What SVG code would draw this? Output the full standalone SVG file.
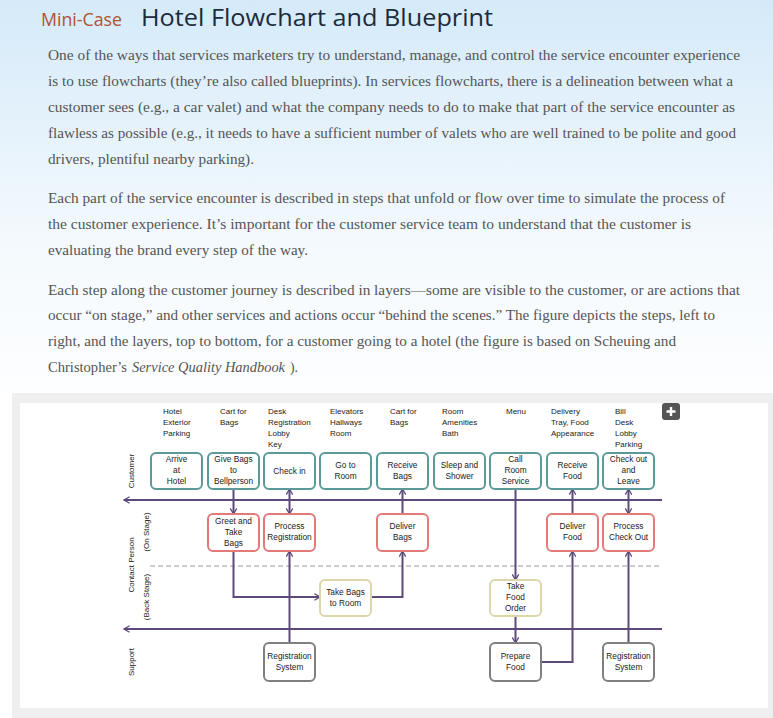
<svg xmlns="http://www.w3.org/2000/svg" width="773" height="718" viewBox="0 0 773 718">
<defs>
<linearGradient id="bg" x1="0" y1="0" x2="0" y2="1">
<stop offset="0" stop-color="#d5eaf9"/>
<stop offset="0.6" stop-color="#f3f9fd"/>
<stop offset="1" stop-color="#fdfeff"/>
</linearGradient>
<marker id="ar" viewBox="0 0 10 10" refX="9" refY="5" markerWidth="8" markerHeight="8" markerUnits="userSpaceOnUse" orient="auto-start-reverse">
<path d="M2,1 L9,5 L2,9" fill="none" stroke="#5d4a7a" stroke-width="1.6"/>
</marker>
<style>
.p{font-family:"Liberation Serif",serif;font-size:15px;fill:#555}
.h{font-family:"Liberation Sans",Arial,sans-serif;font-size:8px;fill:#222}
.t{font-family:"Liberation Sans",Arial,sans-serif;font-size:8.3px;fill:#222;text-anchor:middle}
.lane{font-family:"Liberation Sans",Arial,sans-serif;font-size:8px;fill:#222;text-anchor:middle;dominant-baseline:central}
.cu{fill:#fff;stroke:#5b9a98;stroke-width:2}
.cp{fill:#fff;stroke:#e27a7a;stroke-width:2}
.bs{fill:#fff;stroke:#ddd6aa;stroke-width:2}
.su{fill:#fff;stroke:#808080;stroke-width:2}
.c{fill:none;stroke:#5d4a7a;stroke-width:2}
</style>
</defs>
<rect x="0" y="0" width="773" height="393" fill="url(#bg)"/>
<text x="41" y="26" font-family="Open Sans, sans-serif" font-size="18" fill="#b0532e" textLength="81" lengthAdjust="spacingAndGlyphs">Mini-Case</text>
<text x="141" y="26" font-family="Open Sans, sans-serif" font-size="24" fill="#1d2c3c" textLength="352" lengthAdjust="spacingAndGlyphs">Hotel Flowchart and Blueprint</text>
<g id="text">
<text class="p" x="48" y="60" textLength="692" lengthAdjust="spacingAndGlyphs">One of the ways that services marketers try to understand, manage, and control the service encounter experience</text>
<text class="p" x="48" y="86" textLength="685" lengthAdjust="spacingAndGlyphs">is to use flowcharts (they’re also called blueprints). In services flowcharts, there is a delineation between what a</text>
<text class="p" x="48" y="112" textLength="687" lengthAdjust="spacingAndGlyphs">customer sees (e.g., a car valet) and what the company needs to do to make that part of the service encounter as</text>
<text class="p" x="48" y="138" textLength="688" lengthAdjust="spacingAndGlyphs">flawless as possible (e.g., it needs to have a sufficient number of valets who are well trained to be polite and good</text>
<text class="p" x="48" y="164" textLength="206" lengthAdjust="spacingAndGlyphs">drivers, plentiful nearby parking).</text>
<text class="p" x="48" y="203" textLength="677" lengthAdjust="spacingAndGlyphs">Each part of the service encounter is described in steps that unfold or flow over time to simulate the process of</text>
<text class="p" x="48" y="229" textLength="643" lengthAdjust="spacingAndGlyphs">the customer experience. It’s important for the customer service team to understand that the customer is</text>
<text class="p" x="48" y="255" textLength="260" lengthAdjust="spacingAndGlyphs">evaluating the brand every step of the way.</text>
<text class="p" x="48" y="295" textLength="692" lengthAdjust="spacingAndGlyphs">Each step along the customer journey is described in layers—some are visible to the customer, or are actions that</text>
<text class="p" x="48" y="320" textLength="667" lengthAdjust="spacingAndGlyphs">occur “on stage,” and other services and actions occur “behind the scenes.” The figure depicts the steps, left to</text>
<text class="p" x="48" y="346" textLength="628" lengthAdjust="spacingAndGlyphs">right, and the layers, top to bottom, for a customer going to a hotel (the figure is based on Scheuing and</text>
<text class="p" x="48" y="372" textLength="79" lengthAdjust="spacingAndGlyphs">Christopher’s</text>
<text class="p" x="132" y="372" font-style="italic" textLength="153" lengthAdjust="spacingAndGlyphs">Service Quality Handbook</text>
<text class="p" x="290" y="372" textLength="8" lengthAdjust="spacingAndGlyphs">).</text>
</g>
<rect x="12" y="393" width="761" height="325" fill="#efefef"/>
<rect x="20" y="403" width="748" height="305" fill="#ffffff"/>
<g id="plus">
<rect x="662" y="403" width="18" height="17" rx="3" fill="#555"/>
<path d="M671,407 V416 M666.5,411.5 H675.5" stroke="#fff" stroke-width="2.4"/>
</g>
<g id="headers">
<text class="h" x="163" y="414">Hotel<tspan x="163" dy="11">Exterior</tspan><tspan x="163" dy="11">Parking</tspan></text>
<text class="h" x="220" y="414">Cart for<tspan x="220" dy="11">Bags</tspan></text>
<text class="h" x="268" y="414">Desk<tspan x="268" dy="11">Registration</tspan><tspan x="268" dy="11">Lobby</tspan><tspan x="268" dy="11">Key</tspan></text>
<text class="h" x="330" y="414">Elevators<tspan x="330" dy="11">Hallways</tspan><tspan x="330" dy="11">Room</tspan></text>
<text class="h" x="390" y="414">Cart for<tspan x="390" dy="11">Bags</tspan></text>
<text class="h" x="442" y="414">Room<tspan x="442" dy="11">Amenities</tspan><tspan x="442" dy="11">Bath</tspan></text>
<text class="h" x="506" y="414">Menu</text>
<text class="h" x="551" y="414">Delivery<tspan x="551" dy="11">Tray, Food</tspan><tspan x="551" dy="11">Appearance</tspan></text>
<text class="h" x="615" y="414">Bill<tspan x="615" dy="11">Desk</tspan><tspan x="615" dy="11">Lobby</tspan><tspan x="615" dy="11">Parking</tspan></text>
</g>
<g id="lanes">
<text class="lane" transform="translate(131,471) rotate(-90)">Customer</text>
<text class="lane" transform="translate(146,532) rotate(-90)">(On Stage)</text>
<text class="lane" transform="translate(131,565) rotate(-90)">Contact Person</text>
<text class="lane" transform="translate(146,597) rotate(-90)">(Back Stage)</text>
<text class="lane" transform="translate(131,662) rotate(-90)">Support</text>
</g>
<g id="connectors">
<path class="c" d="M662,500 H124" marker-end="url(#ar)"/>
<path d="M150,566 H662" fill="none" stroke="#999" stroke-width="1.2" stroke-dasharray="5,3"/>
<path class="c" d="M662,629 H124" marker-end="url(#ar)"/>
<path class="c" d="M233.5,489 V514" marker-end="url(#ar)"/>
<path class="c" d="M289.5,489 V514" marker-start="url(#ar)" marker-end="url(#ar)"/>
<path class="c" d="M402.5,514 V489" marker-end="url(#ar)"/>
<path class="c" d="M515.5,489 V580" marker-end="url(#ar)"/>
<path class="c" d="M572.5,514 V489" marker-end="url(#ar)"/>
<path class="c" d="M628.5,489 V514" marker-start="url(#ar)" marker-end="url(#ar)"/>
<path class="c" d="M233.5,551 V597 H320" marker-end="url(#ar)"/>
<path class="c" d="M371,597 H402.5 V551" marker-end="url(#ar)"/>
<path class="c" d="M289.5,643 V551" marker-end="url(#ar)"/>
<path class="c" d="M515.5,616 V643" marker-end="url(#ar)"/>
<path class="c" d="M541,662 H572.5 V551" marker-end="url(#ar)"/>
<path class="c" d="M628.5,643 V551" marker-end="url(#ar)"/>
</g>
<g id="n-arrive"><rect class="cu" x="151" y="453" width="51" height="36" rx="5"/><text class="t" x="176.5" y="462">Arrive<tspan x="176.5" dy="11">at</tspan><tspan x="176.5" dy="11">Hotel</tspan></text></g>
<g id="n-givebags"><rect class="cu" x="208" y="453" width="51" height="36" rx="5"/><text class="t" x="233.5" y="462">Give Bags<tspan x="233.5" dy="11">to</tspan><tspan x="233.5" dy="11">Bellperson</tspan></text></g>
<g id="n-checkin"><rect class="cu" x="264" y="453" width="51" height="36" rx="5"/><text class="t" x="289.5" y="474">Check in</text></g>
<g id="n-gotoroom"><rect class="cu" x="320" y="453" width="51" height="36" rx="5"/><text class="t" x="345.5" y="468">Go to<tspan x="345.5" dy="11">Room</tspan></text></g>
<g id="n-receivebags"><rect class="cu" x="377" y="453" width="51" height="36" rx="5"/><text class="t" x="402.5" y="468">Receive<tspan x="402.5" dy="11">Bags</tspan></text></g>
<g id="n-sleep"><rect class="cu" x="434" y="453" width="51" height="36" rx="5"/><text class="t" x="459.5" y="468">Sleep and<tspan x="459.5" dy="11">Shower</tspan></text></g>
<g id="n-callroom"><rect class="cu" x="490" y="453" width="51" height="36" rx="5"/><text class="t" x="515.5" y="462">Call<tspan x="515.5" dy="11">Room</tspan><tspan x="515.5" dy="11">Service</tspan></text></g>
<g id="n-receivefood"><rect class="cu" x="547" y="453" width="51" height="36" rx="5"/><text class="t" x="572.5" y="468">Receive<tspan x="572.5" dy="11">Food</tspan></text></g>
<g id="n-checkout"><rect class="cu" x="603" y="453" width="51" height="36" rx="5"/><text class="t" x="628.5" y="462">Check out<tspan x="628.5" dy="11">and</tspan><tspan x="628.5" dy="11">Leave</tspan></text></g>
<g id="n-greet"><rect class="cp" x="208" y="514" width="51" height="37" rx="5"/><text class="t" x="233.5" y="524">Greet and<tspan x="233.5" dy="11">Take</tspan><tspan x="233.5" dy="11">Bags</tspan></text></g>
<g id="n-procreg"><rect class="cp" x="264" y="514" width="51" height="37" rx="5"/><text class="t" x="289.5" y="529">Process<tspan x="289.5" dy="11">Registration</tspan></text></g>
<g id="n-deliverbags"><rect class="cp" x="377" y="514" width="51" height="37" rx="5"/><text class="t" x="402.5" y="529">Deliver<tspan x="402.5" dy="11">Bags</tspan></text></g>
<g id="n-deliverfood"><rect class="cp" x="547" y="514" width="51" height="37" rx="5"/><text class="t" x="572.5" y="529">Deliver<tspan x="572.5" dy="11">Food</tspan></text></g>
<g id="n-proccheckout"><rect class="cp" x="603" y="514" width="51" height="37" rx="5"/><text class="t" x="628.5" y="529">Process<tspan x="628.5" dy="11">Check Out</tspan></text></g>
<g id="n-takebags"><rect class="bs" x="320" y="580" width="51" height="36" rx="5"/><text class="t" x="345.5" y="595">Take Bags<tspan x="345.5" dy="11">to Room</tspan></text></g>
<g id="n-takeorder"><rect class="bs" x="490" y="580" width="51" height="36" rx="5"/><text class="t" x="515.5" y="589">Take<tspan x="515.5" dy="11">Food</tspan><tspan x="515.5" dy="11">Order</tspan></text></g>
<g id="n-regsys1"><rect class="su" x="264" y="643" width="51" height="38" rx="5"/><text class="t" x="289.5" y="659">Registration<tspan x="289.5" dy="11">System</tspan></text></g>
<g id="n-prepare"><rect class="su" x="490" y="643" width="51" height="38" rx="5"/><text class="t" x="515.5" y="659">Prepare<tspan x="515.5" dy="11">Food</tspan></text></g>
<g id="n-regsys2"><rect class="su" x="603" y="643" width="51" height="38" rx="5"/><text class="t" x="628.5" y="659">Registration<tspan x="628.5" dy="11">System</tspan></text></g>
</svg>
